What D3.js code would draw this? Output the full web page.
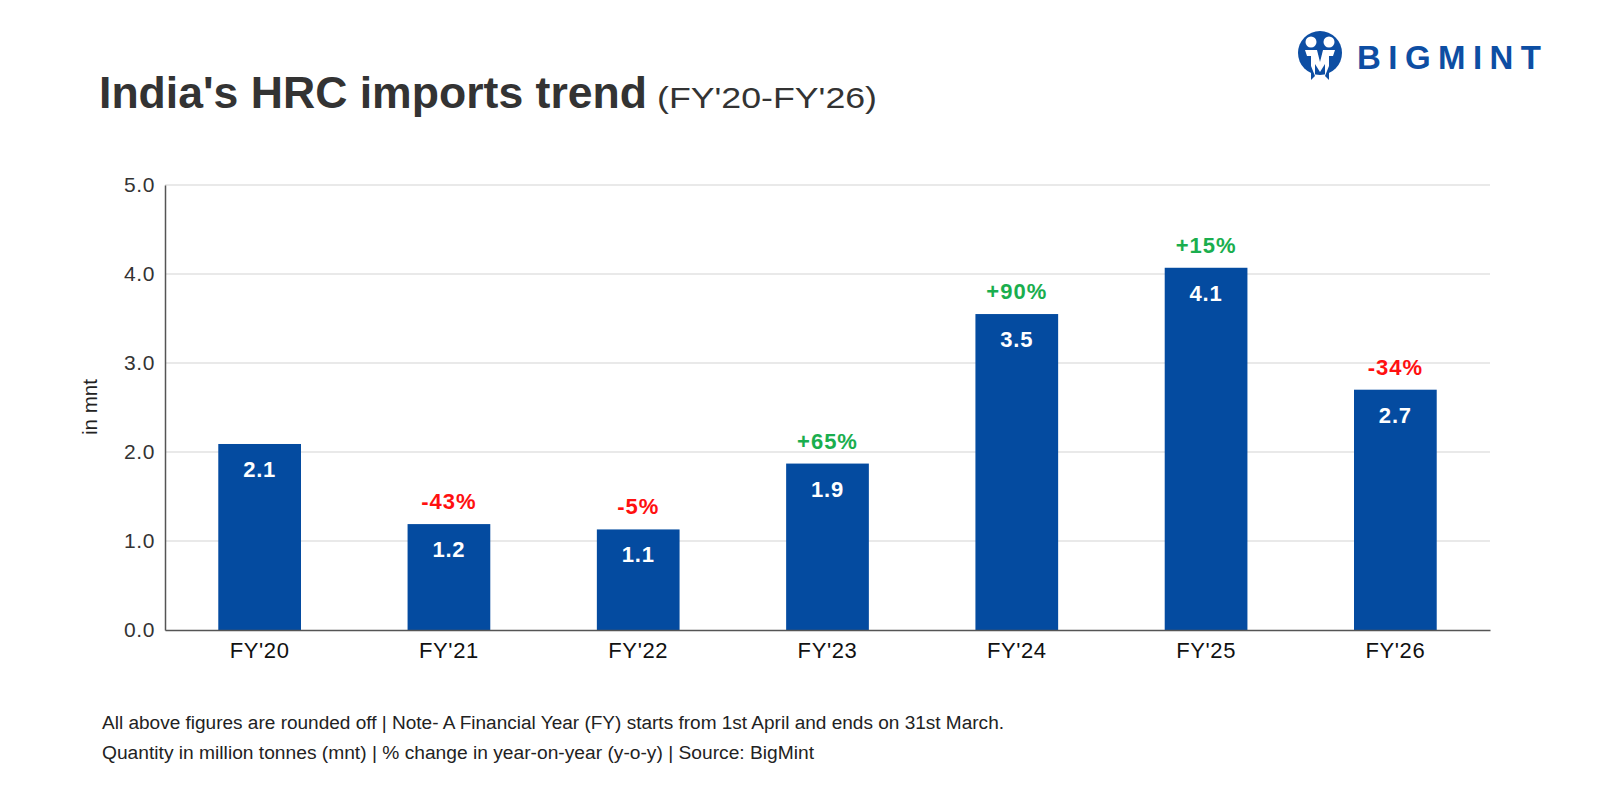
<!DOCTYPE html>
<html><head><meta charset="utf-8">
<script src="https://cdn.jsdelivr.net/npm/d3@7"></script>
<style>
html,body{margin:0;padding:0;background:#fff;}
svg{display:block;}
text{font-family:"Liberation Sans",Arial,sans-serif;}
</style></head>
<body>
<svg id="chart" width="1600" height="801"></svg>
<script>
const categories = ["FY'20","FY'21","FY'22","FY'23","FY'24","FY'25","FY'26"];
const values = [2.09, 1.19, 1.13, 1.87, 3.55, 4.07, 2.70];
const valueLabels = ["2.1","1.2","1.1","1.9","3.5","4.1","2.7"];
const changeLabels = ["", "-43%", "-5%", "+65%", "+90%", "+15%", "-34%"];
const yTicks = [0,1,2,3,4,5];

const svg = d3.select("#chart");
svg.append("rect").attr("width",1600).attr("height",801).attr("fill","#fff");

const x = d3.scaleBand().domain(categories).range([165,1490]).paddingInner(0.563).paddingOuter(0.2815);
const y = d3.scaleLinear().domain([0,5]).range([630,185]);

// gridlines
svg.append("g").selectAll("line").data(yTicks.filter(d=>d>0)).join("line")
  .attr("x1",165).attr("x2",1490).attr("y1",d=>y(d)).attr("y2",d=>y(d))
  .attr("stroke","#e2e2e2").attr("stroke-width",1.5);

// y axis
const yAxis = svg.append("g").attr("transform","translate(165,0)")
  .call(d3.axisLeft(y).tickValues(yTicks).tickFormat(d3.format(".1f")).tickSize(0).tickPadding(10));
yAxis.select(".domain").attr("stroke","#555").attr("stroke-width",1.5);
yAxis.selectAll("text").attr("font-size",21).attr("fill","#333").attr("letter-spacing",0.6)
  .attr("font-family","Liberation Sans, Arial, sans-serif");

// bars
svg.append("g").selectAll("rect").data(values).join("rect")
  .attr("x",(d,i)=>x(categories[i])).attr("width",x.bandwidth())
  .attr("y",d=>y(d)).attr("height",d=>y(0)-y(d)).attr("fill","#044ba0");

// x axis
const xAxis = svg.append("g").attr("transform","translate(0,630)")
  .call(d3.axisBottom(x).tickSize(0).tickPadding(12));
xAxis.select(".domain").attr("stroke","#555").attr("stroke-width",1.5);
xAxis.selectAll("text").attr("font-size",22).attr("fill","#111").attr("letter-spacing",0.6)
  .attr("font-family","Liberation Sans, Arial, sans-serif");

// value labels
svg.append("g").selectAll("text").data(values).join("text")
  .attr("x",(d,i)=>x(categories[i])+x.bandwidth()/2).attr("y",d=>y(d)+33)
  .attr("text-anchor","middle").attr("font-size",22).attr("font-weight","bold").attr("fill","#fff")
  .attr("letter-spacing",0.8)
  .text((d,i)=>valueLabels[i]);

// change labels
svg.append("g").selectAll("text").data(values).join("text")
  .attr("x",(d,i)=>x(categories[i])+x.bandwidth()/2).attr("y",d=>y(d)-15)
  .attr("text-anchor","middle").attr("font-size",22).attr("font-weight","bold")
  .attr("letter-spacing",1)
  .attr("fill",(d,i)=>changeLabels[i].startsWith("-")?"#ff1010":"#1aae4e")
  .text((d,i)=>changeLabels[i]);

// axis title
svg.append("text").attr("transform","translate(97,407) rotate(-90)")
  .attr("text-anchor","middle").attr("font-size",20).attr("fill","#222")
  .attr("textLength",56).attr("lengthAdjust","spacingAndGlyphs").text("in mnt");

// title
const t = svg.append("text").attr("x",99).attr("y",108).attr("fill","#333");
t.append("tspan").attr("font-size",44).attr("font-weight","bold").text("India's HRC imports trend")
  .attr("textLength",548).attr("lengthAdjust","spacingAndGlyphs");
t.append("tspan").attr("x",657).attr("font-size",30).attr("fill","#333").text("(FY'20-FY'26)")
  .attr("textLength",220).attr("lengthAdjust","spacingAndGlyphs");

// footer
const foot = ["All above figures are rounded off | Note- A Financial Year (FY) starts from 1st April and ends on 31st March.",
  "Quantity in million tonnes (mnt) | % change in year-on-year (y-o-y) | Source: BigMint"];
svg.append("g").selectAll("text").data(foot).join("text")
  .attr("x",102).attr("y",(d,i)=>729+i*30).attr("font-size",18).attr("fill","#222")
  .attr("textLength",(d,i)=>i===0?902:712).attr("lengthAdjust","spacingAndGlyphs")
  .text(d=>d);

// logo
const logo = svg.append("g");
logo.append("circle").attr("cx",1320).attr("cy",53).attr("r",22).attr("fill","#0d4ea3");
logo.append("circle").attr("cx",1311).attr("cy",42).attr("r",5.5).attr("fill","#fff");
logo.append("circle").attr("cx",1329).attr("cy",42).attr("r",5.5).attr("fill","#fff");
logo.append("path").attr("d","M1305,50 L1317,50 L1320,62 L1323,50 L1335,50 L1333,56 L1329,56 L1329,77 L1325,77 L1325,64 L1320,72 L1315,64 L1315,77 L1311,77 L1311,56 L1307,56 Z").attr("fill","#fff");
logo.append("path").attr("d","M1311,66 L1311,80 L1315,76 Z M1329,66 L1329,80 L1325,76 Z").attr("fill","#0d4ea3");
logo.append("text").attr("x",1357).attr("y",69).attr("font-size",33).attr("font-weight","bold")
  .attr("font-family","DejaVu Sans, sans-serif")
  .attr("fill","#0d4ea3").attr("textLength",184).attr("lengthAdjust","spacing").text("BIGMINT");
</script>
</body></html>
